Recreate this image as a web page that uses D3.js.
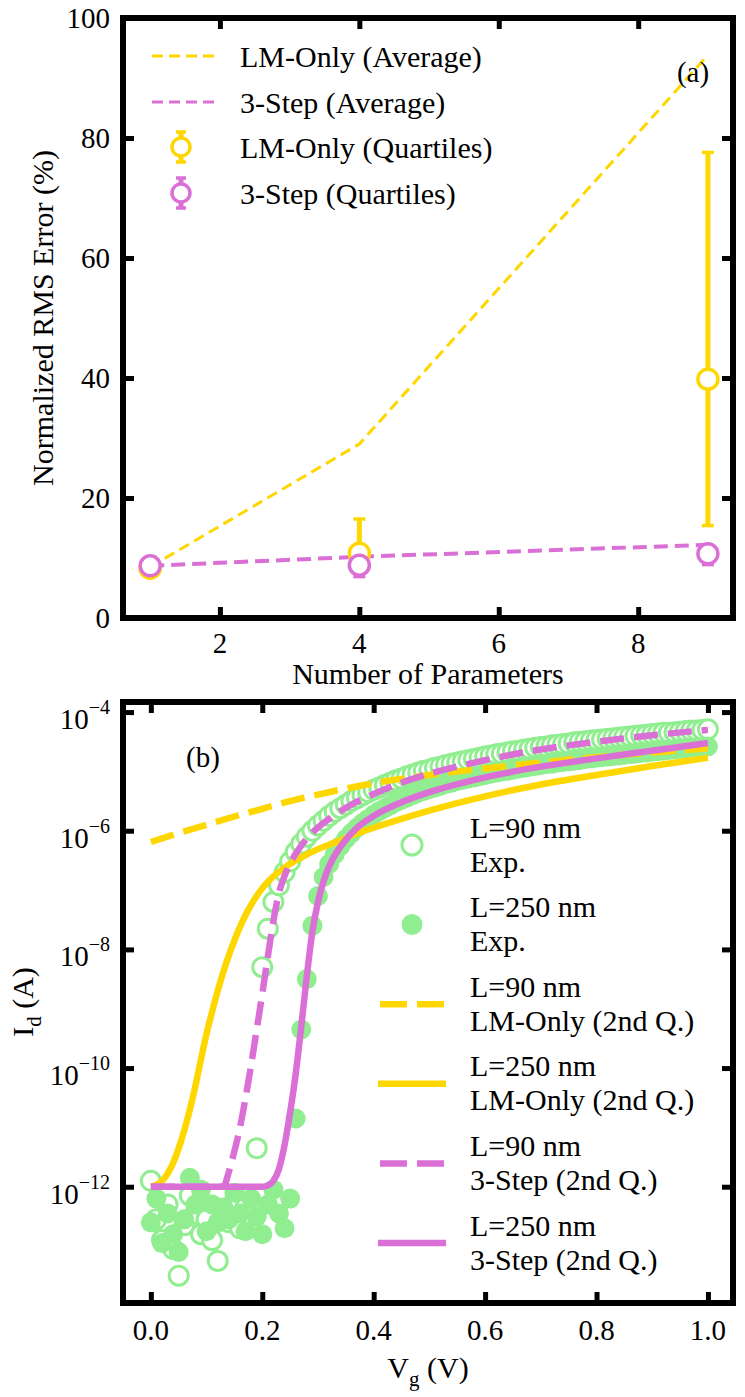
<!DOCTYPE html>
<html>
<head>
<meta charset="utf-8">
<script src="https://cdn.jsdelivr.net/npm/d3@7"></script>
<style>
  body { margin: 0; background: #fff; }
  svg text { font-family: 'Liberation Serif', 'DejaVu Serif', 'Times New Roman', Times, serif; fill: #000; }
</style>
</head>
<body>
<svg id="chart" width="745" height="1397" font-family="Liberation Serif, DejaVu Serif, serif"></svg>
<script>
// ---- panel (a) data ----
var paramCounts = [1, 4, 9];
var lmAvg = [8.5, 29.0, 93.8];
var stepAvg = [8.7, 10.2, 12.2];
var lmMed = [8.3, 10.8, 39.8];
var lmQ1 = [7.8, 8.0, 15.4];
var lmQ3 = [9.0, 16.5, 77.6];
var stepMed = [8.7, 8.8, 10.7];
var stepQ1 = [8.2, 6.9, 8.9];
var stepQ3 = [9.3, 9.6, 12.0];
var aTicksX = [2, 4, 6, 8];
var aTicksY = [0, 20, 40, 60, 80, 100];
var aLegend = ['LM-Only (Average)', '3-Step (Average)', 'LM-Only (Quartiles)', '3-Step (Quartiles)'];

// ---- panel (b) data (currents as log10 of Id in A) ----
var vg = [0, 0.01, 0.02, 0.03, 0.04, 0.05, 0.06, 0.07, 0.08, 0.09,
  0.1, 0.11, 0.12, 0.13, 0.14, 0.15, 0.16, 0.17, 0.18, 0.19,
  0.2, 0.21, 0.22, 0.23, 0.24, 0.25, 0.26, 0.27, 0.28, 0.29,
  0.3, 0.31, 0.32, 0.33, 0.34, 0.35, 0.36, 0.37, 0.38, 0.39,
  0.4, 0.41, 0.42, 0.43, 0.44, 0.45, 0.46, 0.47, 0.48, 0.49,
  0.5, 0.51, 0.52, 0.53, 0.54, 0.55, 0.56, 0.57, 0.58, 0.59,
  0.6, 0.61, 0.62, 0.63, 0.64, 0.65, 0.66, 0.67, 0.68, 0.69,
  0.7, 0.71, 0.72, 0.73, 0.74, 0.75, 0.76, 0.77, 0.78, 0.79,
  0.8, 0.81, 0.82, 0.83, 0.84, 0.85, 0.86, 0.87, 0.88, 0.89,
  0.9, 0.91, 0.92, 0.93, 0.94, 0.95, 0.96, 0.97, 0.98, 0.99, 1.0];
var exp90 = [-11.9, -12.55, -12.9, -12.3, -13.05, -13.5, -12.65, -12.15, -12.45, -12.8,
  -12.55, -12.9, -13.25, -12.4, -12.6, -12.25, -12.7, -12.35, -12.5, -11.35,
  -8.3, -7.65, -7.2, -6.92, -6.7, -6.52, -6.36, -6.22, -6.1, -6.0,
  -5.91, -5.83, -5.75, -5.68, -5.62, -5.56, -5.5, -5.45, -5.4, -5.35,
  -5.31, -5.27, -5.23, -5.19, -5.15, -5.12, -5.08, -5.05, -5.02, -4.99,
  -4.97, -4.94, -4.92, -4.89, -4.87, -4.85, -4.83, -4.81, -4.79, -4.77,
  -4.75, -4.73, -4.71, -4.7, -4.68, -4.66, -4.65, -4.63, -4.62, -4.6,
  -4.59, -4.58, -4.56, -4.55, -4.54, -4.53, -4.51, -4.5, -4.49, -4.48,
  -4.47, -4.46, -4.45, -4.44, -4.43, -4.42, -4.41, -4.4, -4.39, -4.38,
  -4.37, -4.36, -4.35, -4.35, -4.34, -4.33, -4.32, -4.31, -4.31, -4.3, -4.29];
var exp250 = [-12.6, -12.2, -12.95, -12.45, -12.8, -13.1, -12.55, -11.85, -12.3, -12.05,
  -12.75, -12.3, -12.6, -12.35, -12.55, -12.1, -12.45, -12.75, -12.2, -12.5,
  -12.8, -12.3, -12.05, -12.45, -12.7, -12.2, -10.85, -9.35, -8.5, -7.6,
  -7.1, -6.78, -6.56, -6.4, -6.26, -6.14, -6.04, -5.95, -5.87, -5.8,
  -5.73, -5.67, -5.62, -5.57, -5.52, -5.48, -5.44, -5.4, -5.36, -5.33,
  -5.3, -5.27, -5.24, -5.21, -5.19, -5.16, -5.14, -5.12, -5.1, -5.08,
  -5.06, -5.04, -5.02, -5.0, -4.99, -4.97, -4.95, -4.94, -4.92, -4.91,
  -4.89, -4.88, -4.87, -4.85, -4.84, -4.83, -4.82, -4.81, -4.79, -4.78,
  -4.77, -4.76, -4.75, -4.74, -4.73, -4.72, -4.71, -4.7, -4.69, -4.68,
  -4.67, -4.66, -4.65, -4.64, -4.63, -4.62, -4.61, -4.6, -4.6, -4.59, -4.58];

var lm90X = [0, 0.05, 0.1, 0.15, 0.2, 0.25, 0.3, 0.35, 0.4, 0.5, 0.6, 0.7, 0.8, 0.9, 1.0];
var lm90Y = [-6.19, -6.04, -5.9, -5.76, -5.63, -5.5, -5.39, -5.29, -5.2, -5.06, -4.95, -4.85, -4.76, -4.68, -4.61];
var lm250X = [0, 0.01, 0.02, 0.03, 0.04, 0.05, 0.06, 0.07, 0.08, 0.09, 0.1, 0.11, 0.12, 0.13, 0.14, 0.15,
  0.16, 0.17, 0.18, 0.19, 0.2, 0.22, 0.24, 0.26, 0.28, 0.3, 0.33, 0.36, 0.4, 0.45, 0.5, 0.6, 0.7, 0.8, 0.9, 1.0];
var lm250Y = [-12, -11.97, -11.9, -11.78, -11.6, -11.35, -11.05, -10.7, -10.3, -9.85, -9.42, -9.05, -8.7, -8.38, -8.1, -7.85,
  -7.62, -7.42, -7.25, -7.1, -6.97, -6.77, -6.62, -6.5, -6.4, -6.31, -6.2, -6.08, -5.95, -5.8, -5.66, -5.42, -5.22, -5.06, -4.91, -4.77];
var step90X = [0, 0.13, 0.14, 0.15, 0.16, 0.17, 0.18, 0.19, 0.2, 0.21, 0.22, 0.23, 0.24, 0.25, 0.27, 0.29,
  0.32, 0.36, 0.4, 0.45, 0.5, 0.6, 0.7, 0.8, 0.9, 1.0];
var step90Y = [-12, -12, -11.75, -11.4, -11.0, -10.5, -9.95, -9.35, -8.75, -8.12, -7.52, -7.05, -6.76, -6.55, -6.25, -6.03,
  -5.8, -5.56, -5.38, -5.19, -5.04, -4.81, -4.63, -4.5, -4.39, -4.3];
var step250X = [0, 0.2, 0.21, 0.22, 0.23, 0.24, 0.25, 0.26, 0.27, 0.28, 0.29, 0.3, 0.31, 0.32, 0.33, 0.35,
  0.37, 0.4, 0.45, 0.5, 0.6, 0.7, 0.8, 0.9, 1.0];
var step250Y = [-12, -12, -11.98, -11.9, -11.7, -11.3, -10.75, -10.1, -9.3, -8.45, -7.7, -7.2, -6.85, -6.6, -6.42, -6.15,
  -5.95, -5.75, -5.52, -5.35, -5.1, -4.92, -4.78, -4.65, -4.52];
var bTicksX = [0, 0.2, 0.4, 0.6, 0.8, 1.0];
var bTicksExp = [-4, -6, -8, -10, -12];
var bLegend = [['L=90 nm', 'Exp.'], ['L=250 nm', 'Exp.'], ['L=90 nm', 'LM-Only (2nd Q.)'],
  ['L=250 nm', 'LM-Only (2nd Q.)'], ['L=90 nm', '3-Step (2nd Q.)'], ['L=250 nm', '3-Step (2nd Q.)']];

var GOLD = '#FFD700', ORCHID = '#DA70D6', GREEN = '#90EE90';
var FS = 29;

var svg = d3.select('#chart');
svg.append('rect').attr('width', 745).attr('height', 1397).attr('fill', '#fff');

// inward ticks on all four sides, frame on top
function frame(g, x, y, xt, yt) {
  var x0 = x.range()[0], x1 = x.range()[1], y0 = y.range()[0], y1 = y.range()[1];
  var t = g.append('g').attr('class', 'ticks');
  var axes = [
    [d3.axisBottom(x).tickValues(xt), 'translate(0,' + y0 + ')'],
    [d3.axisTop(x).tickValues(xt), 'translate(0,' + y1 + ')'],
    [d3.axisLeft(y).tickValues(yt), 'translate(' + x0 + ',0)'],
    [d3.axisRight(y).tickValues(yt), 'translate(' + x1 + ',0)']
  ];
  axes.forEach(function(a) {
    var ag = t.append('g').attr('transform', a[1])
      .call(a[0].tickSize(-11).tickFormat(''));
    ag.select('.domain').remove();
    ag.selectAll('.tick line').attr('stroke', '#000').attr('stroke-width', 5);
  });
  g.append('rect')
    .attr('x', x0).attr('y', y1)
    .attr('width', x1 - x0).attr('height', y0 - y1)
    .attr('fill', 'none').attr('stroke', '#000').attr('stroke-width', 6);
}

function errorBar(g, cx, cy, yTop, yBot, color, r, cap) {
  g.append('line').attr('x1', cx).attr('x2', cx).attr('y1', yTop).attr('y2', yBot)
    .attr('stroke', color).attr('stroke-width', 5);
  [yTop, yBot].forEach(function(yy) {
    g.append('line').attr('x1', cx - cap).attr('x2', cx + cap).attr('y1', yy).attr('y2', yy)
      .attr('stroke', color).attr('stroke-width', 3.5);
  });
  g.append('circle').attr('cx', cx).attr('cy', cy).attr('r', r)
    .attr('fill', '#fff').attr('stroke', color).attr('stroke-width', 3.5);
}

// ================= panel (a) =================
var ax = d3.scaleLinear().domain([0.61, 9.36]).range([123, 733]);
var ay = d3.scaleLinear().domain([0, 100]).range([618, 18]);
var ga = svg.append('g');

var avgLine = d3.line()
  .x(function(d) { return ax(d[0]); })
  .y(function(d) { return ay(d[1]); });

ga.append('path').datum(d3.zip(paramCounts, lmAvg))
  .attr('d', avgLine).attr('fill', 'none')
  .attr('stroke', GOLD).attr('stroke-width', 3).attr('stroke-dasharray', '11,6');
ga.append('path').datum(d3.zip(paramCounts, stepAvg))
  .attr('d', avgLine).attr('fill', 'none')
  .attr('stroke', ORCHID).attr('stroke-width', 4).attr('stroke-dasharray', '14,7');

paramCounts.forEach(function(p, i) {
  errorBar(ga, ax(p), ay(lmMed[i]), ay(lmQ3[i]), ay(lmQ1[i]), GOLD, 10, 6);
});
paramCounts.forEach(function(p, i) {
  errorBar(ga, ax(p), ay(stepMed[i]), ay(stepQ3[i]), ay(stepQ1[i]), ORCHID, 10, 6);
});

frame(ga, ax, ay, aTicksX, aTicksY);

ga.selectAll('.xlab').data(aTicksX).enter().append('text')
  .attr('x', function(d) { return ax(d); }).attr('y', 653)
  .attr('text-anchor', 'middle').attr('font-size', FS).text(function(d) { return d; });
ga.selectAll('.ylab').data(aTicksY).enter().append('text')
  .attr('x', 110).attr('y', function(d) { return ay(d); }).attr('dy', '0.35em')
  .attr('text-anchor', 'end').attr('font-size', FS).text(function(d) { return d; });

ga.append('text').attr('x', 428).attr('y', 684).attr('text-anchor', 'middle')
  .attr('font-size', FS + 1).text('Number of Parameters');
ga.append('text').attr('transform', 'translate(42,318) rotate(-90)')
  .attr('dy', '0.35em').attr('text-anchor', 'middle')
  .attr('font-size', FS + 1).text('Normalized RMS Error (%)');
ga.append('text').attr('x', 693).attr('y', 72).attr('dy', '0.35em')
  .attr('text-anchor', 'middle').attr('font-size', FS).text('(a)');

// legend (a)
var aRows = [56, 102, 147, 193];
aLegend.forEach(function(label, i) {
  var y = aRows[i];
  if (i === 0) {
    ga.append('line').attr('x1', 152).attr('x2', 216).attr('y1', y).attr('y2', y)
      .attr('stroke', GOLD).attr('stroke-width', 3).attr('stroke-dasharray', '11,6');
  } else if (i === 1) {
    ga.append('line').attr('x1', 152).attr('x2', 216).attr('y1', y).attr('y2', y)
      .attr('stroke', ORCHID).attr('stroke-width', 3).attr('stroke-dasharray', '11,6');
  } else {
    errorBar(ga, 181, y, y - 15, y + 15, i === 2 ? GOLD : ORCHID, 9, 5);
  }
  ga.append('text').attr('x', 240).attr('y', y).attr('dy', '0.35em')
    .attr('font-size', FS + 1).text(label);
});

// ================= panel (b) =================
var bx = d3.scaleLinear().domain([-0.05, 1.045]).range([123, 733]);
var by = d3.scaleLog().domain([Math.pow(10, -13.96), Math.pow(10, -3.83)]).range([1303, 702]);
var gb = svg.append('g');

var clip = svg.append('defs').append('clipPath').attr('id', 'clipb');
clip.append('rect').attr('x', 123).attr('y', 702).attr('width', 610).attr('height', 601);
var plot = gb.append('g').attr('clip-path', 'url(#clipb)');

// measured points
plot.selectAll('.e90').data(d3.zip(vg, exp90)).enter().append('circle')
  .attr('cx', function(d) { return bx(d[0]); })
  .attr('cy', function(d) { return by(Math.pow(10, d[1])); })
  .attr('r', 9.5).attr('fill', '#fff').attr('stroke', GREEN).attr('stroke-width', 3);
plot.selectAll('.e250').data(d3.zip(vg, exp250)).enter().append('circle')
  .attr('cx', function(d) { return bx(d[0]); })
  .attr('cy', function(d) { return by(Math.pow(10, d[1])); })
  .attr('r', 10).attr('fill', GREEN);

// fitted curves
var ivLine = d3.line()
  .curve(d3.curveMonotoneX)
  .x(function(d) { return bx(d[0]); })
  .y(function(d) { return by(Math.pow(10, d[1])); });

var curves = [
  [lm90X, lm90Y, GOLD, '24,10'],
  [lm250X, lm250Y, GOLD, null],
  [step90X, step90Y, ORCHID, '24,10'],
  [step250X, step250Y, ORCHID, null]
];
curves.forEach(function(c) {
  plot.append('path').datum(d3.zip(c[0], c[1]))
    .attr('d', ivLine).attr('fill', 'none')
    .attr('stroke', c[2]).attr('stroke-width', 6.5)
    .attr('stroke-dasharray', c[3]);
});

frame(gb, bx, by, bTicksX, bTicksExp.map(function(e) { return Math.pow(10, e); }));

gb.selectAll('.xlab').data(bTicksX).enter().append('text')
  .attr('x', function(d) { return bx(d); }).attr('y', 1340)
  .attr('text-anchor', 'middle').attr('font-size', FS).text(function(d) { return d3.format('.1f')(d); });

bTicksExp.forEach(function(e) {
  var t = gb.append('text').attr('x', 110).attr('y', by(Math.pow(10, e)) + 17)
    .attr('text-anchor', 'end').attr('font-size', FS);
  t.append('tspan').text('10');
  t.append('tspan').attr('dy', -15).attr('font-size', 20).text('\u2212' + Math.abs(e));
});

var vgLab = gb.append('text').attr('x', 428).attr('y', 1378).attr('text-anchor', 'middle').attr('font-size', FS + 1);
vgLab.append('tspan').text('V');
vgLab.append('tspan').attr('dy', 8).attr('font-size', 21).text('g');
vgLab.append('tspan').attr('dy', -8).text(' (V)');

var idLab = gb.append('text').attr('transform', 'translate(33,1002) rotate(-90)')
  .attr('text-anchor', 'middle').attr('font-size', FS + 1);
idLab.append('tspan').text('I');
idLab.append('tspan').attr('dy', 8).attr('font-size', 21).text('d');
idLab.append('tspan').attr('dy', -8).text(' (A)');

gb.append('text').attr('x', 203).attr('y', 757).attr('dy', '0.35em')
  .attr('text-anchor', 'middle').attr('font-size', FS).text('(b)');

// legend (b)
bLegend.forEach(function(lab, i) {
  var y = 845 + i * 79.6;
  if (i === 0) {
    gb.append('circle').attr('cx', 412).attr('cy', y).attr('r', 10)
      .attr('fill', '#fff').attr('stroke', GREEN).attr('stroke-width', 3);
  } else if (i === 1) {
    gb.append('circle').attr('cx', 412).attr('cy', y).attr('r', 10.5).attr('fill', GREEN);
  } else {
    var color = i < 4 ? GOLD : ORCHID;
    var dashed = i % 2 === 0;
    gb.append('line').attr('x1', dashed ? 380 : 378).attr('x2', dashed ? 444 : 446)
      .attr('y1', y).attr('y2', y)
      .attr('stroke', color).attr('stroke-width', 6.5)
      .attr('stroke-dasharray', dashed ? '27,10' : null);
  }
  gb.append('text').attr('x', 470).attr('y', y - 18).attr('dy', '0.35em')
    .attr('font-size', FS + 1).text(lab[0]);
  gb.append('text').attr('x', 470).attr('y', y + 16).attr('dy', '0.35em')
    .attr('font-size', FS + 1).text(lab[1]);
});
</script>
</body>
</html>
